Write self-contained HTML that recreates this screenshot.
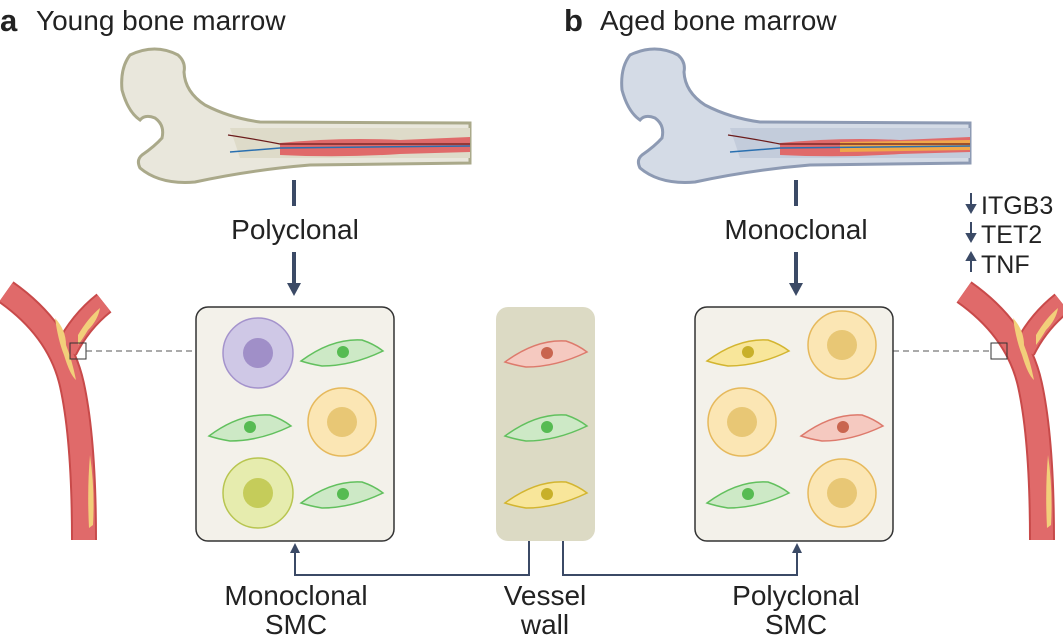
<!DOCTYPE html>
<html><head><meta charset="utf-8"><style>
body{margin:0;background:#fff;}
svg{display:block;font-family:"Liberation Sans",sans-serif;}
</style></head><body>
<svg width="1063" height="636" viewBox="0 0 1063 636">
<defs>
<g id="sp"><path d="M-41,9 Q-10,-14 20,-12 Q32,-8 41,-1 Q10,14 -20,14 Q-32,12 -41,9Z"/></g>
</defs>
<text x="0" y="31" font-size="31" font-weight="bold" fill="#222">a</text>
<text x="36" y="30" font-size="28" fill="#222">Young bone marrow</text>
<text x="564" y="31" font-size="31" font-weight="bold" fill="#222">b</text>
<text x="600" y="30" font-size="28" fill="#222">Aged bone marrow</text>

<!-- bones -->
<g>
<path d="M130,55 Q155,43 178,55 Q186,62 184,72 Q185,92 205,105 Q230,118 260,122 L470,123 L470,163 L310,165 Q250,170 195,182 Q160,185 140,168 Q136,160 142,155 Q155,146 162,138 Q165,125 155,118 Q145,114 140,120 Q128,112 122,90 Q120,68 130,55Z" fill="#e9e7dc" stroke="#aaa98a" stroke-width="3"/>
<path d="M230,128 L470,128 L470,158 L240,158Z" fill="#dedbc9"/>
<path d="M280,143 Q340,137 400,140 L470,137 L470,152 L400,154 Q340,158 280,155Z" fill="#e06a6a"/>
<path d="M228,135 Q260,140 280,144 L470,144" stroke="#6b1b1b" stroke-width="1.2" fill="none"/>
<path d="M230,152 L280,148 L470,146" stroke="#2a70b0" stroke-width="1.5" fill="none"/>
</g>
<g transform="translate(500,0)">
<path d="M130,55 Q155,43 178,55 Q186,62 184,72 Q185,92 205,105 Q230,118 260,122 L470,123 L470,163 L310,165 Q250,170 195,182 Q160,185 140,168 Q136,160 142,155 Q155,146 162,138 Q165,125 155,118 Q145,114 140,120 Q128,112 122,90 Q120,68 130,55Z" fill="#d4dbe6" stroke="#8d9ab3" stroke-width="3"/>
<path d="M230,128 L470,128 L470,158 L240,158Z" fill="#c3ccdb"/>
<path d="M280,143 Q340,137 400,140 L470,137 L470,152 L400,154 Q340,158 280,155Z" fill="#e06a6a"/>
<path d="M340,142 L470,140 L470,150 L340,152Z" fill="#f0a84a"/>
<path d="M228,135 Q260,140 280,144 L470,144" stroke="#6b1b1b" stroke-width="1.2" fill="none"/>
<path d="M230,152 L280,148 L470,146" stroke="#2a70b0" stroke-width="1.5" fill="none"/>
</g>

<!-- top arrows -->
<rect x="292" y="180" width="4" height="26" fill="#3b4a66"/>
<text x="295" y="239" font-size="28" text-anchor="middle" fill="#222">Polyclonal</text>
<path d="M294,252 L294,286" stroke="#3b4a66" stroke-width="4"/><path d="M287,283 L294,296 L301,283Z" fill="#3b4a66"/>
<rect x="794" y="180" width="4" height="26" fill="#3b4a66"/>
<text x="796" y="239" font-size="28" text-anchor="middle" fill="#222">Monoclonal</text>
<path d="M796,252 L796,286" stroke="#3b4a66" stroke-width="4"/><path d="M789,283 L796,296 L803,283Z" fill="#3b4a66"/>

<text x="981" y="214" font-size="25" fill="#222">ITGB3</text>
<text x="981" y="243" font-size="25" fill="#222">TET2</text>
<text x="981" y="273" font-size="25" fill="#222">TNF</text>
<g stroke="#3b4a66" stroke-width="2" fill="#3b4a66">
<path d="M971,193 L971,210"/><path d="M967,205 L971,212 L975,205Z"/>
<path d="M971,222 L971,239"/><path d="M967,234 L971,241 L975,234Z"/>
<path d="M971,272 L971,255"/><path d="M967,260 L971,253 L975,260Z"/>
</g>

<!-- vessels -->
<g id="ves">
<g fill="none" stroke-linecap="butt">
<path d="M6,292 Q60,330 72,385 Q84,440 84,540" stroke="#c84a4a" stroke-width="26"/>
<path d="M66,350 Q80,322 104,303" stroke="#c84a4a" stroke-width="24"/>
<path d="M6,292 Q60,330 72,385 Q84,440 84,540" stroke="#e06a6a" stroke-width="22"/>
<path d="M66,350 Q80,322 104,303" stroke="#e06a6a" stroke-width="20"/>
</g>
<path d="M55,318 Q66,330 66,345 Q72,360 76,380 Q70,375 64,355 Q58,340 55,318Z" fill="#f2cf7a"/>
<path d="M78,335 Q88,318 100,308 Q98,320 88,330 Q82,340 78,345Z" fill="#f2cf7a"/>
<path d="M90,455 Q95,490 93,525 L89,528 Q87,490 90,455Z" fill="#f2cf7a"/>
</g>
<use href="#ves" transform="translate(958,0)"/>
<rect x="70" y="343" width="16" height="16" fill="none" stroke="#333" stroke-width="1"/>
<rect x="991" y="343" width="16" height="16" fill="none" stroke="#333" stroke-width="1"/>
<path d="M86,351 L196,351 M893,351 L991,351" stroke="#555" stroke-width="1" stroke-dasharray="6,4"/>

<!-- boxes -->
<rect x="196" y="307" width="198" height="234" rx="12" fill="#f3f1ea" stroke="#333" stroke-width="1.5"/>
<rect x="496" y="307" width="99" height="234" rx="12" fill="#dcdac4"/>
<rect x="695" y="307" width="198" height="234" rx="12" fill="#f3f1ea" stroke="#333" stroke-width="1.5"/>

<!-- cells -->
<g stroke-width="1.5">
<circle cx="258" cy="353" r="35" fill="#cfc8e6" stroke="#a493cc"/><circle cx="258" cy="353" r="15" fill="#a08fc8" stroke="none"/>
<circle cx="342" cy="422" r="34" fill="#fbe6b4" stroke="#e6b95c"/><circle cx="342" cy="422" r="15" fill="#e8c775" stroke="none"/>
<circle cx="258" cy="493" r="35" fill="#e6ecae" stroke="#b8c550"/><circle cx="258" cy="493" r="15" fill="#c5cc5a" stroke="none"/>
<circle cx="842" cy="345" r="34" fill="#fbe6b4" stroke="#e6b95c"/><circle cx="842" cy="345" r="15" fill="#e8c775" stroke="none"/>
<circle cx="742" cy="422" r="34" fill="#fbe6b4" stroke="#e6b95c"/><circle cx="742" cy="422" r="15" fill="#e8c775" stroke="none"/>
<circle cx="842" cy="493" r="34" fill="#fbe6b4" stroke="#e6b95c"/><circle cx="842" cy="493" r="15" fill="#e8c775" stroke="none"/>
</g>
<g stroke-width="1.5">
<g fill="#cde9c6" stroke="#62c05e">
<use href="#sp" x="342" y="352"/><use href="#sp" x="250" y="427"/><use href="#sp" x="342" y="494"/><use href="#sp" x="546" y="427"/><use href="#sp" x="748" y="494"/>
</g>
<g fill="#f5c9c0" stroke="#dd7a6c"><use href="#sp" x="546" y="353"/><use href="#sp" x="842" y="427"/></g>
<g fill="#f8e69a" stroke="#d3b530"><use href="#sp" x="546" y="494"/><use href="#sp" x="748" y="352"/></g>
</g>
<g>
<circle cx="343" cy="352" r="6" fill="#56bb52"/><circle cx="250" cy="427" r="6" fill="#56bb52"/><circle cx="343" cy="494" r="6" fill="#56bb52"/><circle cx="547" cy="427" r="6" fill="#56bb52"/><circle cx="748" cy="494" r="6" fill="#56bb52"/>
<circle cx="547" cy="353" r="6" fill="#c9654f"/><circle cx="843" cy="427" r="6" fill="#c9654f"/>
<circle cx="547" cy="494" r="6" fill="#c8b02a"/><circle cx="748" cy="352" r="6" fill="#c8b02a"/>
</g>

<!-- bottom connectors -->
<path d="M529,541 L529,575 L295,575 L295,550" fill="none" stroke="#3b4a66" stroke-width="2"/>
<path d="M290,553 L295,543 L300,553Z" fill="#3b4a66"/>
<path d="M563,541 L563,575 L797,575 L797,550" fill="none" stroke="#3b4a66" stroke-width="2"/>
<path d="M792,553 L797,543 L802,553Z" fill="#3b4a66"/>

<text x="296" y="605" font-size="28" text-anchor="middle" fill="#222">Monoclonal</text>
<text x="296" y="634" font-size="28" text-anchor="middle" fill="#222">SMC</text>
<text x="545" y="605" font-size="28" text-anchor="middle" fill="#222">Vessel</text>
<text x="545" y="634" font-size="28" text-anchor="middle" fill="#222">wall</text>
<text x="796" y="605" font-size="28" text-anchor="middle" fill="#222">Polyclonal</text>
<text x="796" y="634" font-size="28" text-anchor="middle" fill="#222">SMC</text>
</svg>
</body></html>
